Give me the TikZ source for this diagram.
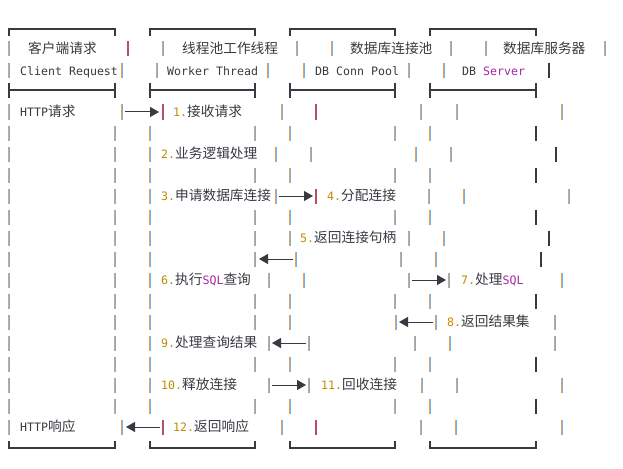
\documentclass[tikz,border=0pt]{standalone}
\usepackage{fontspec}
\newfontfamily\monof{DejaVu Sans Mono}
\newfontfamily\cjkf{Noto Sans CJK SC}
\usetikzlibrary{arrows.meta}
\definecolor{tc}{HTML}{383A42}
\definecolor{numc}{HTML}{C08A00}
\definecolor{kwc}{HTML}{A626A4}
\definecolor{orc}{HTML}{E8A15A}
\definecolor{blc}{HTML}{6DB3F2}
\definecolor{mrc}{HTML}{B4506E}
\newcommand\M{\fontsize{11.6pt}{14pt}\selectfont\monof}
\newcommand\C{\fontsize{13.7pt}{14pt}\selectfont\cjkf}
\newcommand\N[1]{{\M\color{numc}#1}}
\newcommand\Q[1]{{\M\color{kwc}#1}}
\tikzset{
  ob/.pic={\draw[orc,line width=1.1pt] (-0.55,-7.5)--(-0.55,7.5);
           \draw[blc,line width=1.1pt] (0.55,-7.5)--(0.55,7.5);},
  mr/.pic={\draw[mrc,line width=1.3pt] (0,-7.5)--(0,7.5);},
  dk/.pic={\draw[tc,line width=1.3pt] (0,-7.5)--(0,7.5);},
  bx/.style={draw=tc,line width=1.2pt},
  txt/.style={anchor=base west,inner sep=0pt,text=tc},
  arr/.style={draw=tc,line width=1pt,-{Triangle[length=9pt,width=10pt]}},
}
\begin{document}
\begin{tikzpicture}[x=1pt,y=-1pt]
\useasboundingbox (0,0) rectangle (623,468);
% box borders
\foreach \a/\b in {9/115,150/255,290/395,430/536}{
  \draw[bx] (\a,36)--(\a,29)--(\b,29)--(\b,36);
  \draw[bx] (\a,83)--(\a,98); \draw[bx] (\b,83)--(\b,98); \draw[bx] (\a,90)--(\b,90);
  \draw[bx] (\a,441)--(\a,448)--(\b,448)--(\b,441);
}
% standard rows
\foreach \y in {133,175,217,301,364,406}
  \foreach \x/\s in {9/ob,115/ob,150/ob,255/ob,290/ob,395/ob,430/ob,536/dk}
    \pic at (\x,\y) {\s};
% row 1
\foreach \x/\s in {9/ob,128/mr,163/ob,297/ob,332/ob,451/ob,486/ob,605/ob} \pic at (\x,49) {\s};
\node[txt] (h1) at (28,53.5) {\C 客户端请求};
\node[txt] (h2) at (182,53.5) {\C 线程池工作线程};
\node[txt] (h3) at (350,53.5) {\C 数据库连接池};
\node[txt] (h4) at (503,53.5) {\C 数据库服务器};
% row 2
\foreach \x/\s in {9/ob,122/ob,157/ob,268/ob,304/ob,409/ob,444/ob,549/dk} \pic at (\x,71) {\s};
\node[txt] (e1) at (20,75.5) {\M Client Request};
\node[txt] (e2) at (167,75.5) {\M Worker Thread};
\node[txt] (e3) at (315,75.5) {\M DB Conn Pool};
\node[txt] (e4) at (462,75.5) {\M DB \Q{Server}};
% row 4
\foreach \x/\s in {9/ob,122/ob,163/mr,282/ob,316/mr,421/ob,457/ob,562/ob} \pic at (\x,112) {\s};
\node[txt] (r4a) at (20,116.5) {\M HTTP\C 请求};
\node[txt] (r4b) at (173,116.5) {\N{1.}\C 接收请求};
\coordinate (a1s) at (125,112); \coordinate (a1e) at (159,112);
\draw[arr] (a1s) -- (a1e);
% row 6
\foreach \x/\s in {9/ob,115/ob,150/ob,276/ob,311/ob,416/ob,451/ob,556/dk} \pic at (\x,154) {\s};
\node[txt] (r6) at (161,158.5) {\N{2.}\C 业务逻辑处理};
% row 8
\foreach \x/\s in {9/ob,115/ob,150/ob,276/ob,316/mr,429/ob,464/ob,569/ob} \pic at (\x,196) {\s};
\node[txt] (r8a) at (161,200.5) {\N{3.}\C 申请数据库连接};
\node[txt] (r8b) at (327,200.5) {\N{4.}\C 分配连接};
\coordinate (a3s) at (279,196); \coordinate (a3e) at (313,196);
\draw[arr] (a3s) -- (a3e);
% row 10
\foreach \x/\s in {9/ob,115/ob,150/ob,255/ob,290/ob,409/ob,444/ob,549/dk} \pic at (\x,238) {\s};
\node[txt] (r10) at (300,242.5) {\N{5.}\C 返回连接句柄};
% row 11
\foreach \x/\s in {9/ob,115/ob,150/ob,255/ob,296/ob,401/ob,436/ob,541/dk} \pic at (\x,259) {\s};
\coordinate (a5s) at (293,259); \coordinate (a5e) at (259,259);
\draw[arr] (a5s) -- (a5e);
% row 12
\foreach \x/\s in {9/ob,115/ob,150/ob,269/ob,304/ob,409/ob,449/ob,562/ob} \pic at (\x,280) {\s};
\node[txt] (r12a) at (161,284.5) {\N{6.}\C 执行\Q{SQL}\C 查询};
\node[txt] (r12b) at (461,284.5) {\N{7.}\C 处理\Q{SQL}};
\coordinate (a7s) at (412,280); \coordinate (a7e) at (446,280);
\draw[arr] (a7s) -- (a7e);
% row 14
\foreach \x/\s in {9/ob,115/ob,150/ob,255/ob,290/ob,396/ob,436/ob,555/ob} \pic at (\x,322) {\s};
\node[txt] (r14) at (447,326.5) {\N{8.}\C 返回结果集};
\coordinate (a8s) at (433,322); \coordinate (a8e) at (399,322);
\draw[arr] (a8s) -- (a8e);
% row 15
\foreach \x/\s in {9/ob,115/ob,150/ob,269/ob,309/ob,415/ob,450/ob,555/ob} \pic at (\x,343) {\s};
\node[txt] (r15) at (161,347.5) {\N{9.}\C 处理查询结果};
\coordinate (a9s) at (306,343); \coordinate (a9e) at (272,343);
\draw[arr] (a9s) -- (a9e);
% row 17
\foreach \x/\s in {9/ob,115/ob,150/ob,269/ob,309/ob,422/ob,457/ob,562/ob} \pic at (\x,385) {\s};
\node[txt] (r17a) at (161,389.5) {\N{10.}\C 释放连接};
\node[txt] (r17b) at (321,389.5) {\N{11.}\C 回收连接};
\coordinate (a10s) at (272,385); \coordinate (a10e) at (306,385);
\draw[arr] (a10s) -- (a10e);
% row 19
\foreach \x/\s in {9/ob,122/ob,163/mr,282/ob,316/mr,421/ob,456/ob,562/ob} \pic at (\x,427) {\s};
\node[txt] (r19a) at (20,431.5) {\M HTTP\C 响应};
\node[txt] (r19b) at (173,431.5) {\N{12.}\C 返回响应};
\coordinate (a12s) at (160,427); \coordinate (a12e) at (126,427);
\draw[arr] (a12s) -- (a12e);
\end{tikzpicture}
\end{document}
